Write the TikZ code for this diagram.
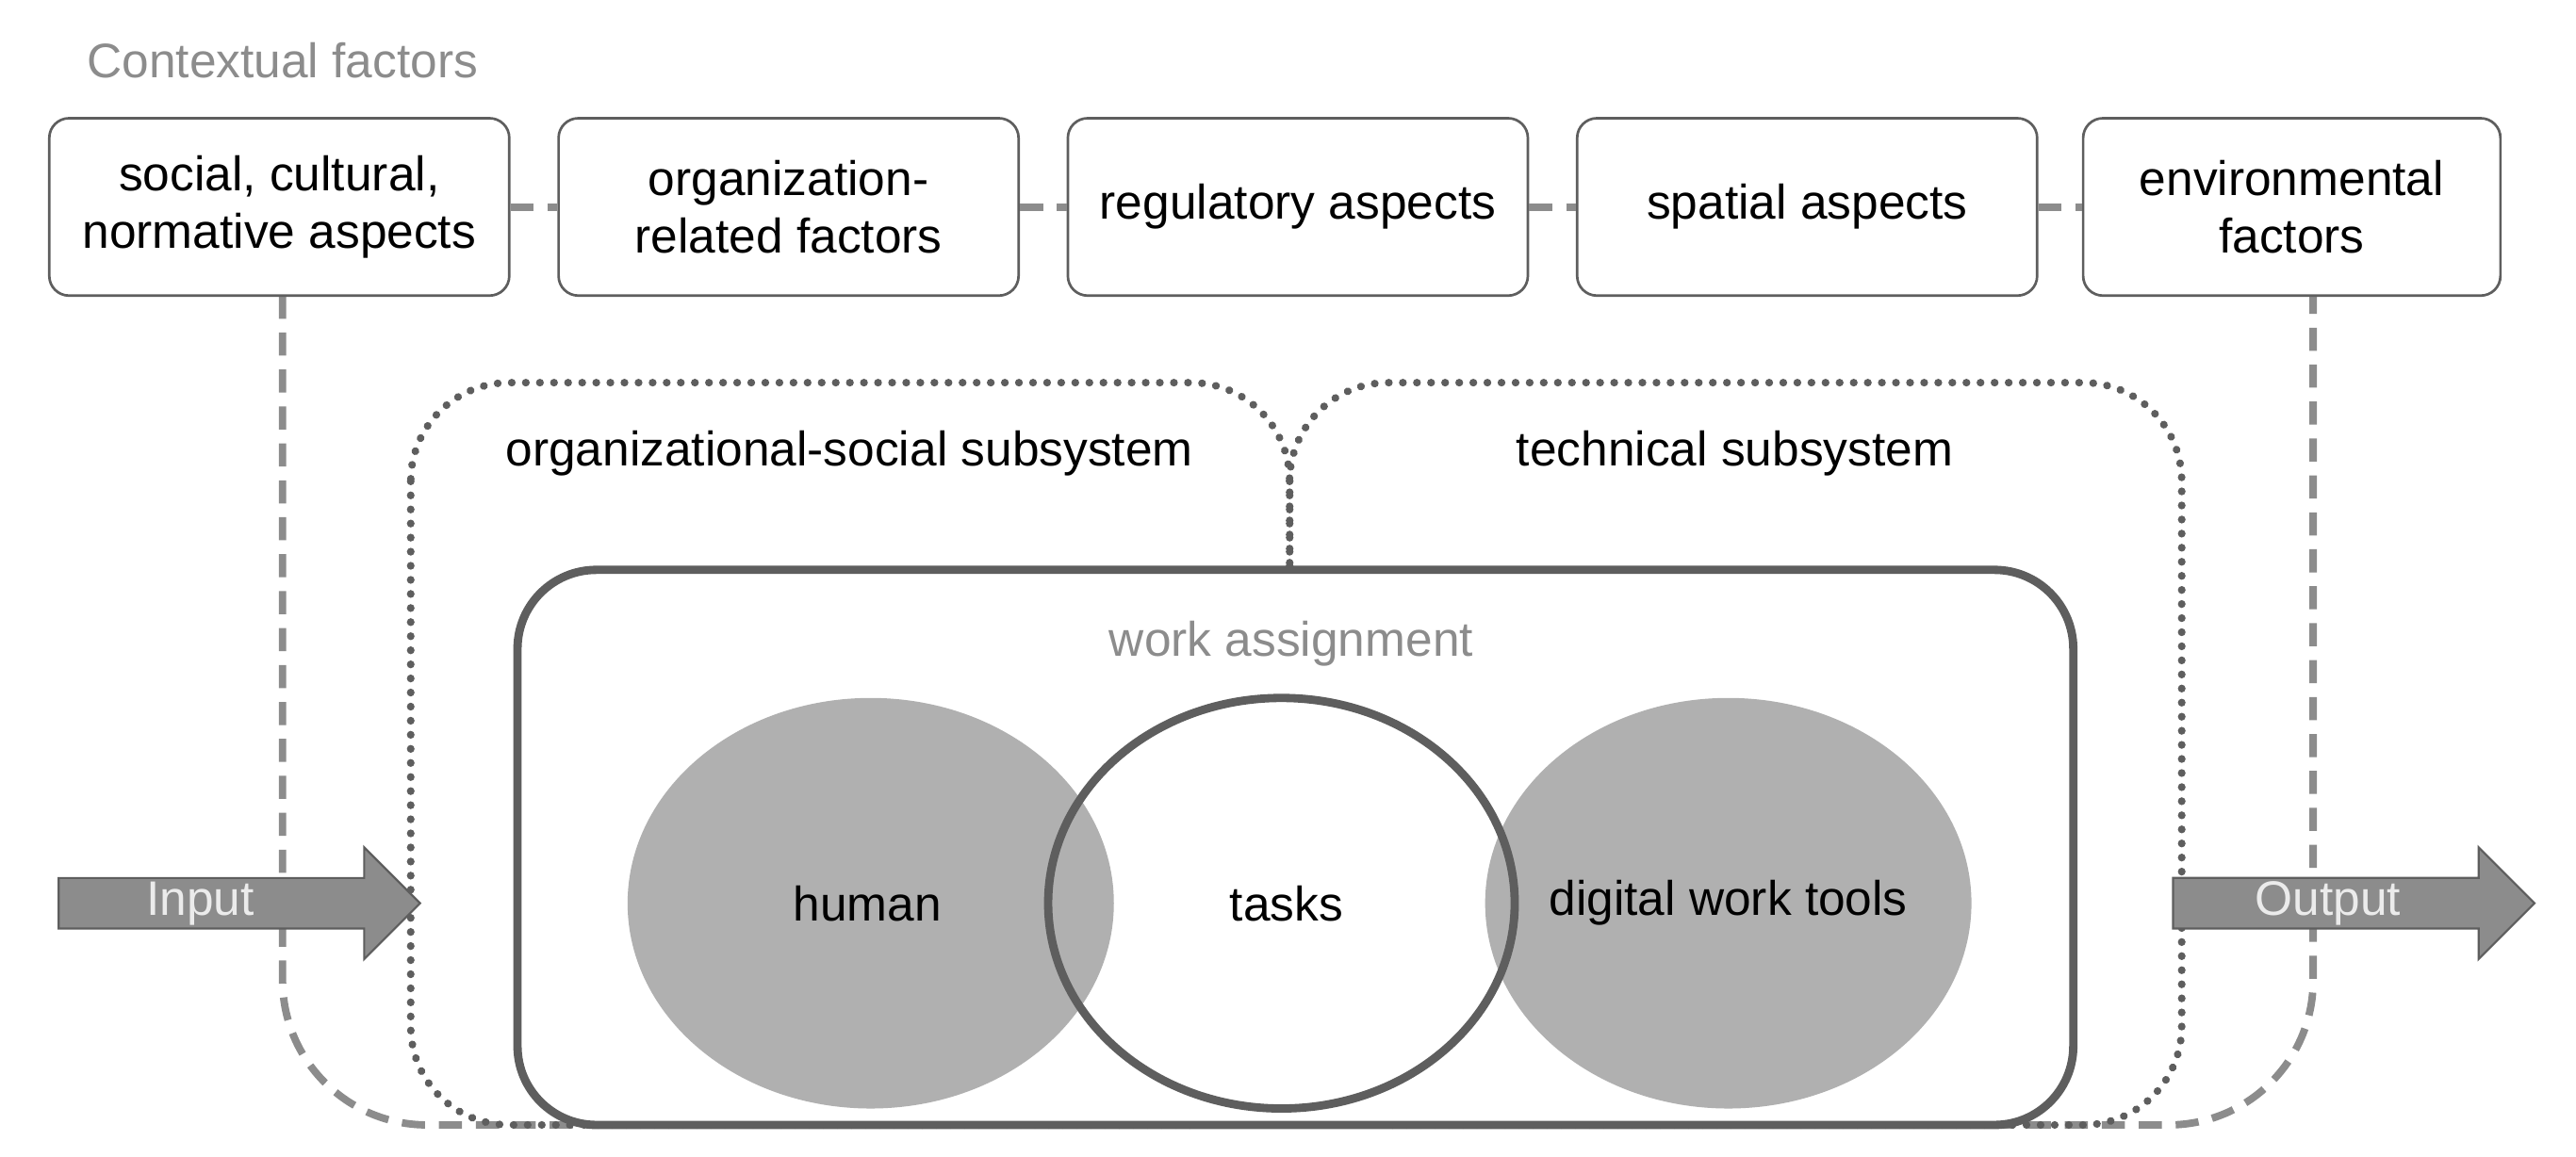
\documentclass[tikz,border=0pt]{standalone}
\usepackage{fontspec}
\setmainfont{Liberation Sans}
\usetikzlibrary{shapes.arrows}
\definecolor{dg}{HTML}{5E5E5E}
\definecolor{mg}{HTML}{8C8C8C}
\definecolor{lg}{HTML}{B0B0B0}
\begin{document}
\begin{tikzpicture}[x=0.25mm,y=-0.25mm,
  ctx/.style={draw=dg,line width=1.1pt,rounded corners=3mm,minimum width=70mm,minimum height=27mm,align=center,font=\fontsize{21}{25}\selectfont,fill=white},
  lbl/.style={font=\fontsize{21}{25}\selectfont},
  ctxline/.style={draw=mg,line width=3.2pt,dash pattern=on 10pt off 6pt},
  dotline/.style={draw=dg,line width=3.3pt,dash pattern=on 0.1pt off 6pt,line cap=round},
  io/.style={single arrow,draw=dg,fill=mg,line width=0.9pt,minimum height=55mm,minimum width=17mm,single arrow head extend=4.2mm,single arrow head indent=0pt,single arrow tip angle=90,inner sep=0pt,font=\fontsize{21}{25}\selectfont,text=white!92!black,anchor=center}]
\useasboundingbox (0,0) rectangle (1568,704);
% U-shaped dashed connector
\coordinate (ul) at (172,180);
\coordinate (ur) at (1408,180);
\draw[ctxline,rounded corners=22mm] (ul) -- (172,685) -- (1408,685) -- (ur);
% dotted subsystems
\draw[dotline,rounded corners=15mm] (250,233) rectangle (785,685);
\draw[dotline,rounded corners=15mm] (785,233) rectangle (1328,685);
\node[lbl] (os) at (517,276) {organizational-social subsystem};
\node[lbl] (ts) at (1056,276) {technical subsystem};
% work assignment
\draw[draw=dg,line width=3.6pt,fill=white,rounded corners=12mm] (315,347) rectangle (1262,685);
\node[lbl,text=mg] (wa) at (786,392) {work assignment};
\fill[lg] (530,550) ellipse [x radius=148,y radius=125];
\fill[lg] (1052,550) ellipse [x radius=148,y radius=125];
\draw[dg,line width=3.6pt] (780,550) ellipse [x radius=142,y radius=125];
\node[lbl] (hu) at (528,550) {human};
\node[lbl] (ta) at (783,550) {tasks};
\node[lbl] (dt) at (1052,550) {digital work tools};
% input output
\node[io] (in) at (138,550) {\hspace*{-8mm}Input};
\node[io] (out) at (1425,550) {\hspace*{-4mm}Output};
% context
\node[lbl,text=mg,anchor=west] (cf) at (48,37) {Contextual factors};
\node[ctx] (c1) at (170,126) {social, cultural,\\normative aspects};
\node[ctx] (c2) at (480,126) {organization-\\related factors};
\node[ctx] (c3) at (790,126) {regulatory aspects};
\node[ctx] (c4) at (1100,126) {spatial aspects};
\node[ctx,minimum width=63.5mm] (c5) at (1395,126) {environmental\\factors};
\draw[ctxline] (c1) -- (c2);
\draw[ctxline] (c2) -- (c3);
\draw[ctxline] (c3) -- (c4);
\draw[ctxline] (c4) -- (c5);
\end{tikzpicture}
\end{document}
